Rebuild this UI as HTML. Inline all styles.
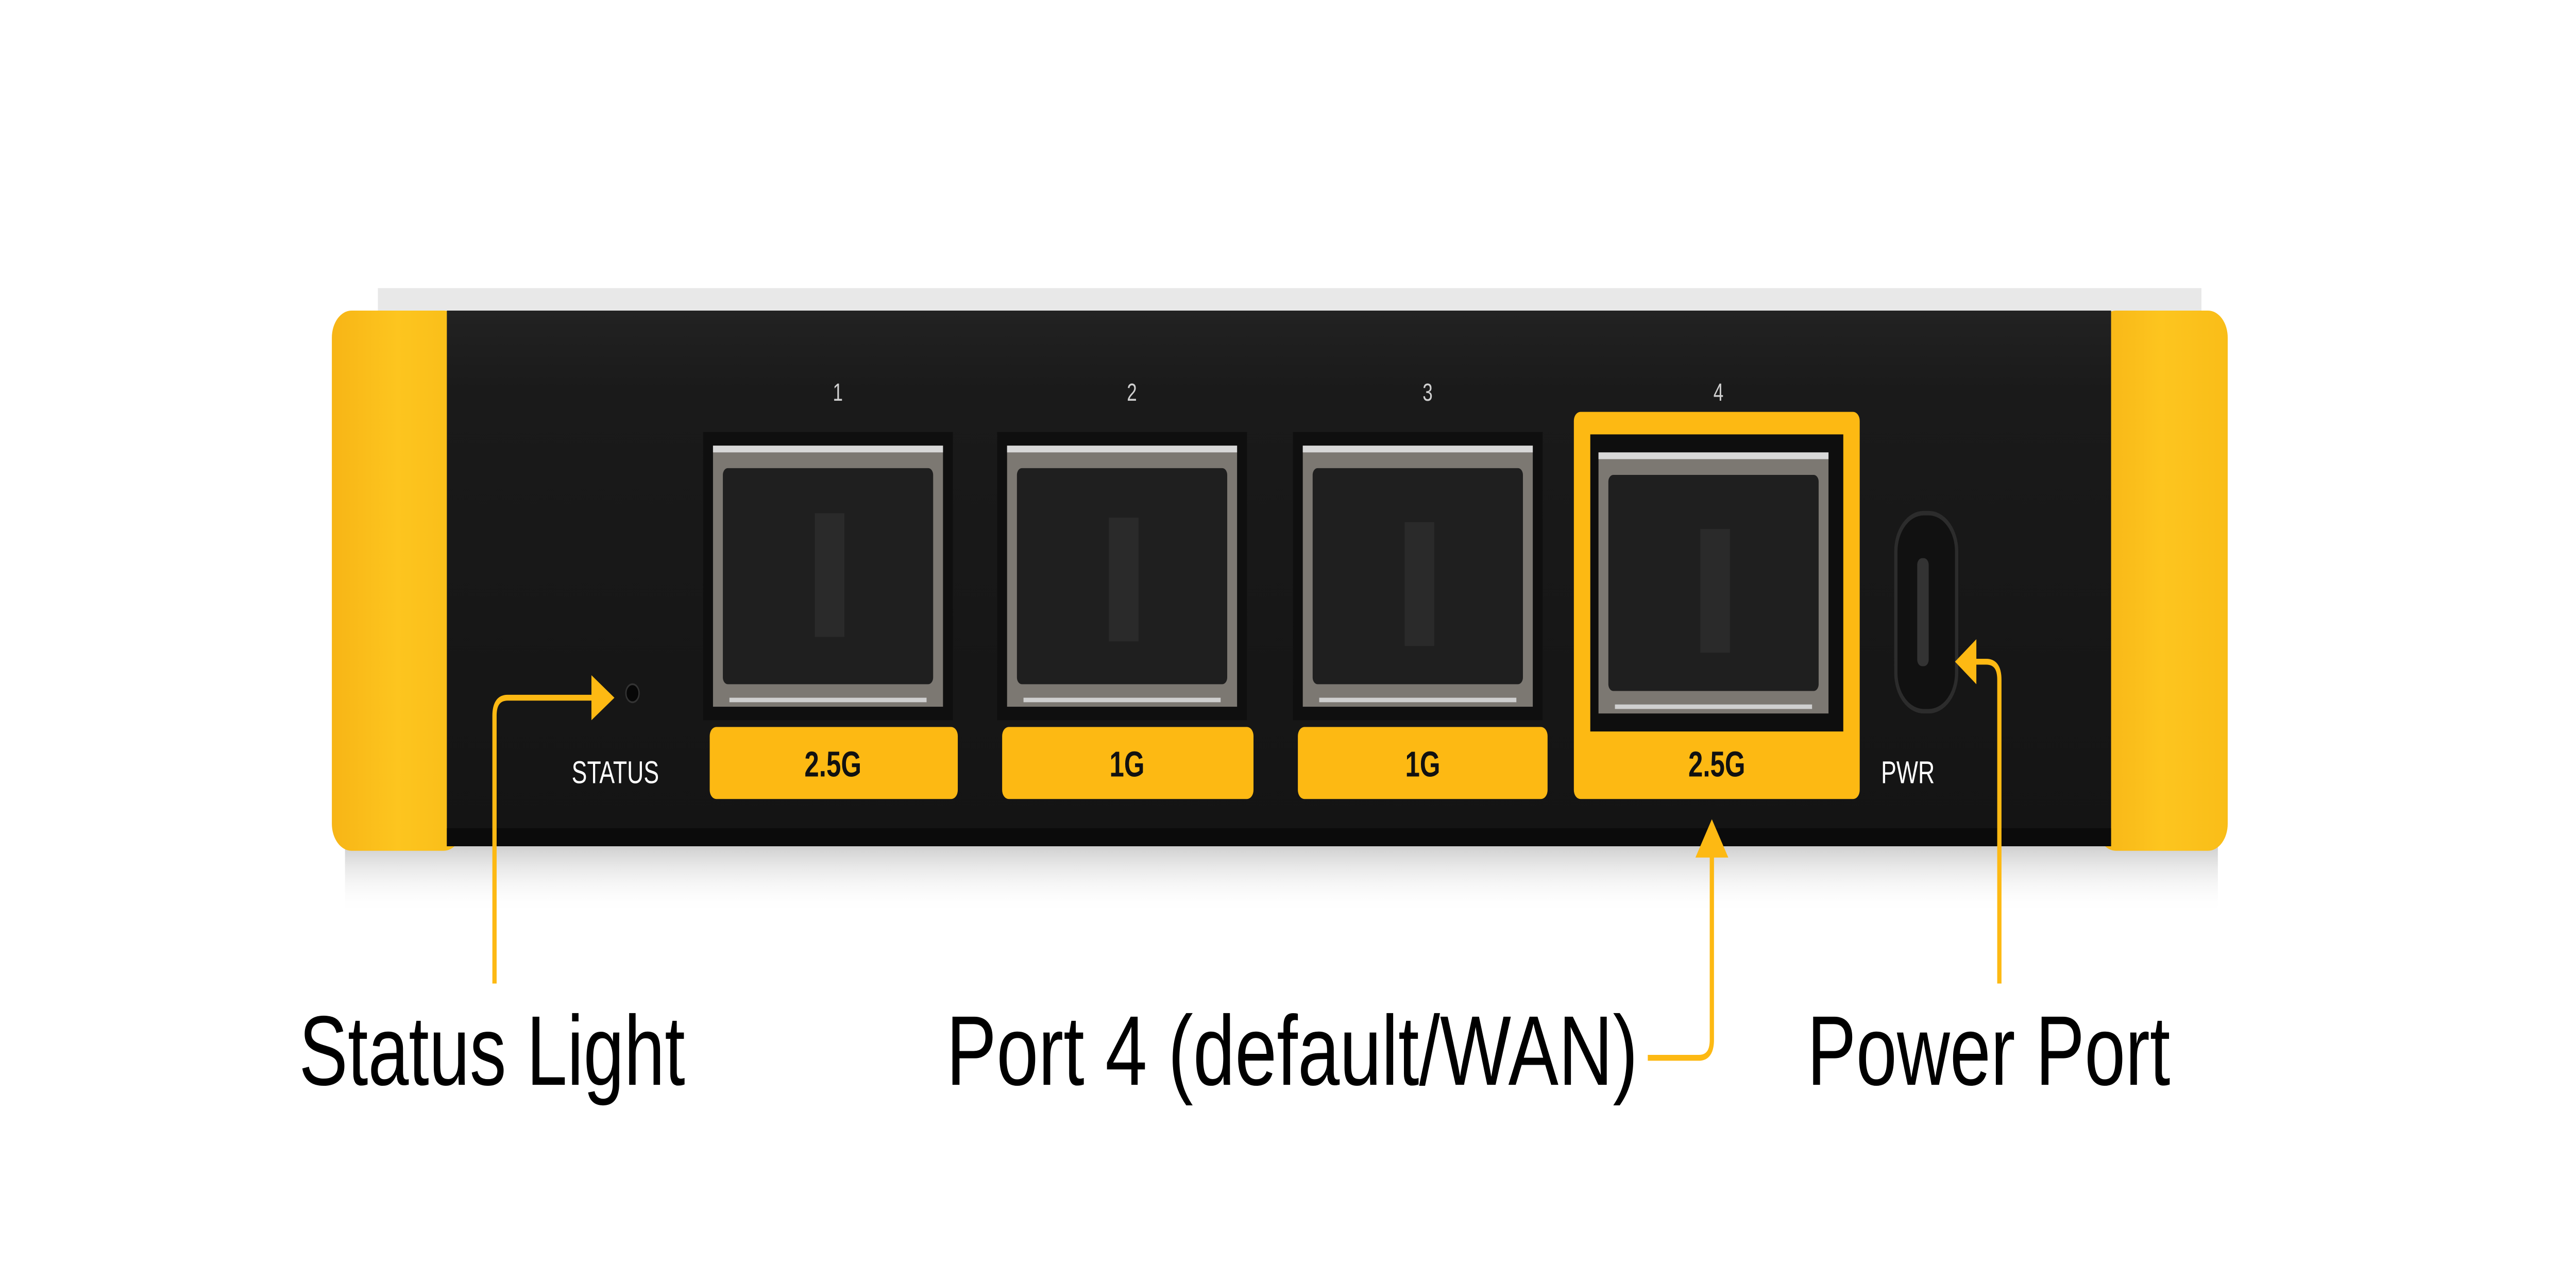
<!DOCTYPE html>
<html><head><meta charset="utf-8"><style>
html,body{margin:0;padding:0;background:#fff;width:100%;height:100%;overflow:hidden;}
svg{display:block;position:absolute;left:0;top:0;width:100vw;height:100vh;}
</style></head><body>
<svg viewBox="0 0 1568 561.6" preserveAspectRatio="none" xmlns="http://www.w3.org/2000/svg">
<defs>
<linearGradient id="body" x1="0" y1="0" x2="0" y2="1">
<stop offset="0" stop-color="#222"/><stop offset="0.15" stop-color="#1a1a1a"/><stop offset="1" stop-color="#141414"/>
</linearGradient>
<linearGradient id="cap" x1="0" y1="0" x2="1" y2="0">
<stop offset="0" stop-color="#f7b516"/><stop offset="0.5" stop-color="#fdc51f"/><stop offset="1" stop-color="#f9bd18"/>
</linearGradient>
<linearGradient id="sh" x1="0" y1="0" x2="0" y2="1">
<stop offset="0" stop-color="#cfcfcf"/><stop offset="1" stop-color="#fff" stop-opacity="0"/>
</linearGradient>
</defs>
<rect width="1568" height="561.6" fill="#fff"/>
<rect x="210" y="376" width="1140" height="30" fill="url(#sh)"/>
<rect x="230" y="128" width="1110" height="12" fill="#e8e8e8"/>
<rect x="202" y="138" width="80" height="240" rx="12" fill="url(#cap)"/>
<rect x="1276" y="138" width="80" height="240" rx="12" fill="url(#cap)"/>
<rect x="272" y="138" width="1013" height="238" fill="url(#body)"/>
<rect x="272" y="368" width="1013" height="8" fill="#0b0b0b"/>

<g font-family="Liberation Sans, sans-serif" font-size="11" fill="#cfcfcf" text-anchor="middle">
<text x="510" y="178">1</text><text x="689" y="178">2</text><text x="869" y="178">3</text><text x="1046" y="178">4</text>
</g>

<rect x="958" y="183" width="174" height="172" rx="4" fill="#fdb913"/>
<rect x="968" y="193" width="154" height="132" fill="#0e0e0e"/>

<g>
<rect x="428" y="192" width="152" height="128" fill="#0f0f0f"/>
<rect x="434" y="198" width="140" height="116" fill="#7c7872"/>
<rect x="440" y="208" width="128" height="96" rx="3" fill="#1f1f1f"/>
<rect x="496" y="228" width="18" height="55" fill="#2a2a2a"/>
<rect x="434" y="198" width="140" height="3" fill="#d8d8d8"/>
<rect x="444" y="310" width="120" height="2" fill="#cfcfcf"/>
</g>
<g transform="translate(179,0)">
<rect x="428" y="192" width="152" height="128" fill="#0f0f0f"/>
<rect x="434" y="198" width="140" height="116" fill="#7c7872"/>
<rect x="440" y="208" width="128" height="96" rx="3" fill="#1f1f1f"/>
<rect x="496" y="230" width="18" height="55" fill="#2a2a2a"/>
<rect x="434" y="198" width="140" height="3" fill="#d8d8d8"/>
<rect x="444" y="310" width="120" height="2" fill="#cfcfcf"/>
</g>
<g transform="translate(359,0)">
<rect x="428" y="192" width="152" height="128" fill="#0f0f0f"/>
<rect x="434" y="198" width="140" height="116" fill="#7c7872"/>
<rect x="440" y="208" width="128" height="96" rx="3" fill="#1f1f1f"/>
<rect x="496" y="232" width="18" height="55" fill="#2a2a2a"/>
<rect x="434" y="198" width="140" height="3" fill="#d8d8d8"/>
<rect x="444" y="310" width="120" height="2" fill="#cfcfcf"/>
</g>
<g transform="translate(539,3)">
<rect x="434" y="198" width="140" height="116" fill="#7c7872"/>
<rect x="440" y="208" width="128" height="96" rx="3" fill="#1f1f1f"/>
<rect x="496" y="232" width="18" height="55" fill="#2a2a2a"/>
<rect x="434" y="198" width="140" height="3" fill="#d8d8d8"/>
<rect x="444" y="310" width="120" height="2" fill="#cfcfcf"/>
</g>

<rect x="432" y="323" width="151" height="32" rx="4" fill="#fdb913"/>
<rect x="610" y="323" width="153" height="32" rx="4" fill="#fdb913"/>
<rect x="790" y="323" width="152" height="32" rx="4" fill="#fdb913"/>
<g font-family="Liberation Sans, sans-serif" font-size="16" font-weight="bold" fill="#111" text-anchor="middle">
<text x="507" y="345">2.5G</text><text x="686" y="345">1G</text><text x="866" y="345">1G</text><text x="1045" y="345">2.5G</text>
</g>

<circle cx="385" cy="308" r="4" fill="#070707" stroke="#333" stroke-width="0.8"/>
<g font-family="Liberation Sans, sans-serif" font-size="14" fill="#fff">
<text x="348" y="348">STATUS</text>
<text x="1145" y="348">PWR</text>
</g>
<rect x="1154" y="228" width="37" height="88" rx="17" fill="#111" stroke="#2c2c2c" stroke-width="2"/>
<rect x="1167" y="248" width="7" height="48" rx="3" fill="#333"/>

<g fill="none" stroke="#fdb913" stroke-width="2.6">
<path d="M301 437 V318 Q301 310 309 310 H364"/>
<path d="M1042 378 V462 Q1042 470 1034 470 H1003"/>
<path d="M1217 437 V302 Q1217 294 1209 294 H1200"/>
</g>
<g fill="#fdb913">
<polygon points="374,310 360,300 360,320"/>
<polygon points="1042,364 1032,381 1052,381"/>
<polygon points="1190,294 1203,284 1203,304"/>
</g>

<g font-family="Liberation Sans, sans-serif" font-size="44" fill="#000">
<text x="182" y="482" textLength="235" lengthAdjust="spacingAndGlyphs">Status Light</text>
<text x="576" y="482" textLength="421" lengthAdjust="spacingAndGlyphs">Port 4 (default/WAN)</text>
<text x="1100" y="482" textLength="221" lengthAdjust="spacingAndGlyphs">Power Port</text>
</g>
</svg>
</body></html>
